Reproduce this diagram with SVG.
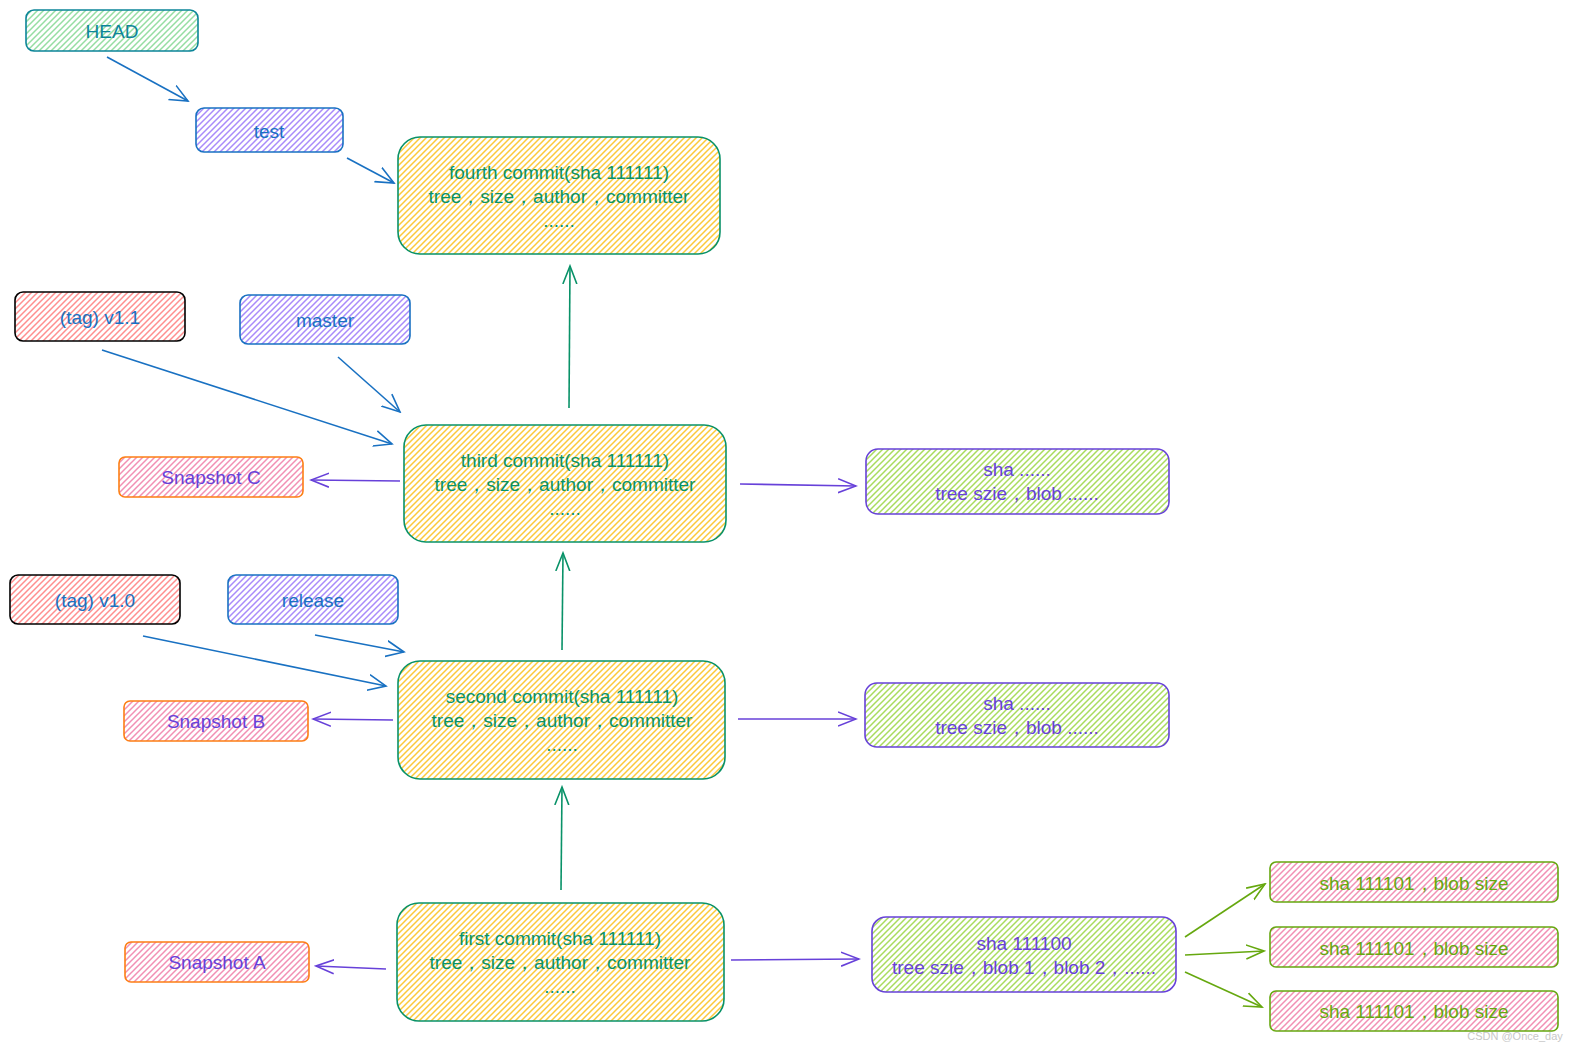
<svg xmlns="http://www.w3.org/2000/svg" width="1573" height="1043" viewBox="0 0 1573 1043">
<style>
text{font-family:"Liberation Sans",Arial,sans-serif;font-size:19px;text-anchor:middle}
.box{stroke-width:1.6}
.c{fill:url(#hy);stroke:#099268}
.ct{fill:#099268}
.br{fill:url(#hp);stroke:#1971c2}
.bt{fill:#1971c2}
.tg{fill:url(#hr);stroke:#000}
.sn{fill:url(#hk);stroke:#fd7e14}
.st{fill:#6741d9}
.tr{fill:url(#hg);stroke:#6741d9}
.bl{fill:url(#hk);stroke:#66a80f}
.blt{fill:#66a80f}
.e{fill:none;stroke-width:1.6}
</style>
<defs>
<pattern id="hy" width="6" height="6" patternUnits="userSpaceOnUse"><rect width="6" height="6" fill="#fff"/><path d="M-1,1 L1,-1 M0,6 L6,0 M5,7 L7,5" stroke="#fcc93a" stroke-width="1.5"/></pattern>
<pattern id="hp" width="6" height="6" patternUnits="userSpaceOnUse"><rect width="6" height="6" fill="#fff"/><path d="M-1,1 L1,-1 M0,6 L6,0 M5,7 L7,5" stroke="#a98bfa" stroke-width="1.5"/></pattern>
<pattern id="hr" width="6" height="6" patternUnits="userSpaceOnUse"><rect width="6" height="6" fill="#fff"/><path d="M-1,1 L1,-1 M0,6 L6,0 M5,7 L7,5" stroke="#ff8f8f" stroke-width="1.5"/></pattern>
<pattern id="hk" width="6" height="6" patternUnits="userSpaceOnUse"><rect width="6" height="6" fill="#fff"/><path d="M-1,1 L1,-1 M0,6 L6,0 M5,7 L7,5" stroke="#f290b4" stroke-width="1.5"/></pattern>
<pattern id="hg" width="6" height="6" patternUnits="userSpaceOnUse"><rect width="6" height="6" fill="#fff"/><path d="M-1,1 L1,-1 M0,6 L6,0 M5,7 L7,5" stroke="#a9dc5e" stroke-width="1.5"/></pattern>
<pattern id="hh" width="6" height="6" patternUnits="userSpaceOnUse"><rect width="6" height="6" fill="#fff"/><path d="M-1,1 L1,-1 M0,6 L6,0 M5,7 L7,5" stroke="#96dea2" stroke-width="1.5"/></pattern>
<marker id="mb" viewBox="0 0 20 20" refX="18" refY="10" markerWidth="20" markerHeight="20" markerUnits="userSpaceOnUse" orient="auto"><path d="M0,2 L18,10 L0,18" fill="none" stroke="#1971c2" stroke-width="1.6"/></marker>
<marker id="mg" viewBox="0 0 20 20" refX="18" refY="10" markerWidth="20" markerHeight="20" markerUnits="userSpaceOnUse" orient="auto"><path d="M0,3 L18,10 L0,17" fill="none" stroke="#099268" stroke-width="1.6"/></marker>
<marker id="mv" viewBox="0 0 20 20" refX="18" refY="10" markerWidth="20" markerHeight="20" markerUnits="userSpaceOnUse" orient="auto"><path d="M0,3 L18,10 L0,17" fill="none" stroke="#6741d9" stroke-width="1.6"/></marker>
<marker id="ml" viewBox="0 0 20 20" refX="18" refY="10" markerWidth="20" markerHeight="20" markerUnits="userSpaceOnUse" orient="auto"><path d="M0,3 L18,10 L0,17" fill="none" stroke="#66a80f" stroke-width="1.6"/></marker>
</defs>
<g id="connectors">
<path class="e" stroke="#1971c2" marker-end="url(#mb)" d="M107,57 L188,101"/>
<path class="e" stroke="#1971c2" marker-end="url(#mb)" d="M347,158 L394,183"/>
<path class="e" stroke="#1971c2" marker-end="url(#mb)" d="M102,350 L392,444"/>
<path class="e" stroke="#1971c2" marker-end="url(#mb)" d="M338,357 L400,412"/>
<path class="e" stroke="#1971c2" marker-end="url(#mb)" d="M143,636 L386,686"/>
<path class="e" stroke="#1971c2" marker-end="url(#mb)" d="M315,635 L404,652"/>
<path class="e" stroke="#099268" marker-end="url(#mg)" d="M569,408 L570,266"/>
<path class="e" stroke="#099268" marker-end="url(#mg)" d="M562,650 L563,553"/>
<path class="e" stroke="#099268" marker-end="url(#mg)" d="M561,890 L562,787"/>
<path class="e" stroke="#6741d9" marker-end="url(#mv)" d="M400,481 L311,480"/>
<path class="e" stroke="#6741d9" marker-end="url(#mv)" d="M393,720 L313,719"/>
<path class="e" stroke="#6741d9" marker-end="url(#mv)" d="M386,969 L316,966"/>
<path class="e" stroke="#6741d9" marker-end="url(#mv)" d="M740,484 L856,486"/>
<path class="e" stroke="#6741d9" marker-end="url(#mv)" d="M738,719 L856,719"/>
<path class="e" stroke="#6741d9" marker-end="url(#mv)" d="M731,960 L859,959"/>
<path class="e" stroke="#66a80f" marker-end="url(#ml)" d="M1185,937 L1265,884"/>
<path class="e" stroke="#66a80f" marker-end="url(#ml)" d="M1185,955 L1264,951"/>
<path class="e" stroke="#66a80f" marker-end="url(#ml)" d="M1185,972 L1262,1007"/>
</g>
<g id="head"><rect class="box" x="26" y="10" width="172" height="41" rx="8" fill="url(#hh)" stroke="#0c8599"/><text x="112" y="38" fill="#0c8599">HEAD</text></g>
<g id="test"><rect class="box br" x="196" y="108" width="147" height="44" rx="8"/><text class="bt" x="269" y="138">test</text></g>
<g id="c4"><rect class="box c" x="398" y="137" width="322" height="117" rx="22"/><text class="ct" x="559" y="179">fourth commit(sha 111111)</text><text class="ct" x="559" y="203">tree，size，author，committer</text><text class="ct" x="559" y="227">......</text></g>
<g id="tag11"><rect class="box tg" x="15" y="292" width="170" height="49" rx="8"/><text class="bt" x="100" y="324">(tag) v1.1</text></g>
<g id="master"><rect class="box br" x="240" y="295" width="170" height="49" rx="8"/><text class="bt" x="325" y="327">master</text></g>
<g id="snapc"><rect class="box sn" x="119" y="457" width="184" height="40" rx="6"/><text class="st" x="211" y="484">Snapshot C</text></g>
<g id="c3"><rect class="box c" x="404" y="425" width="322" height="117" rx="22"/><text class="ct" x="565" y="467">third commit(sha 111111)</text><text class="ct" x="565" y="491">tree，size，author，committer</text><text class="ct" x="565" y="515">......</text></g>
<g id="t3"><rect class="box tr" x="866" y="449" width="303" height="65" rx="12"/><text class="st" x="1017" y="476">sha ......</text><text class="st" x="1017" y="500">tree szie，blob ......</text></g>
<g id="tag10"><rect class="box tg" x="10" y="575" width="170" height="49" rx="8"/><text class="bt" x="95" y="607">(tag) v1.0</text></g>
<g id="release"><rect class="box br" x="228" y="575" width="170" height="49" rx="8"/><text class="bt" x="313" y="607">release</text></g>
<g id="snapb"><rect class="box sn" x="124" y="701" width="184" height="40" rx="6"/><text class="st" x="216" y="728">Snapshot B</text></g>
<g id="c2"><rect class="box c" x="398" y="661" width="327" height="118" rx="22"/><text class="ct" x="562" y="703">second commit(sha 111111)</text><text class="ct" x="562" y="727">tree，size，author，committer</text><text class="ct" x="562" y="751">......</text></g>
<g id="t2"><rect class="box tr" x="865" y="683" width="304" height="64" rx="12"/><text class="st" x="1017" y="710">sha ......</text><text class="st" x="1017" y="734">tree szie，blob ......</text></g>
<g id="snapa"><rect class="box sn" x="125" y="942" width="184" height="40" rx="6"/><text class="st" x="217" y="969">Snapshot A</text></g>
<g id="c1"><rect class="box c" x="397" y="903" width="327" height="118" rx="22"/><text class="ct" x="560" y="945">first commit(sha 111111)</text><text class="ct" x="560" y="969">tree，size，author，committer</text><text class="ct" x="560" y="993">......</text></g>
<g id="t1"><rect class="box tr" x="872" y="917" width="304" height="75" rx="14"/><text class="st" x="1024" y="950">sha 111100</text><text class="st" x="1024" y="974">tree szie，blob 1，blob 2，......</text></g>
<g id="b1"><rect class="box bl" x="1270" y="862" width="288" height="40" rx="6"/><text class="blt" x="1414" y="890">sha 111101，blob size</text></g>
<g id="b2"><rect class="box bl" x="1270" y="927" width="288" height="40" rx="6"/><text class="blt" x="1414" y="955">sha 111101，blob size</text></g>
<g id="b3"><rect class="box bl" x="1270" y="991" width="288" height="40" rx="6"/><text class="blt" x="1414" y="1018">sha 111101，blob size</text></g>
<text x="1515" y="1040" style="font-size:11px;fill:#c8c8c8">CSDN @Once_day</text>
</svg>
